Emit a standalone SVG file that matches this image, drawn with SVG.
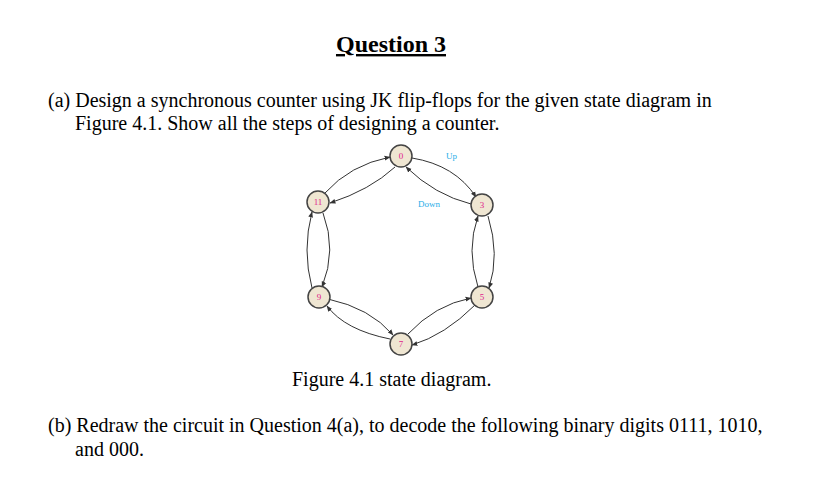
<svg xmlns="http://www.w3.org/2000/svg" width="830" height="481" viewBox="0 0 830 481">
<style>
.t{font-family:"Liberation Serif",serif;font-size:20px;fill:#000}
.n circle{fill:#efe6d2;stroke:#444;stroke-width:1.5}
.n text{font-family:"Liberation Serif",serif;font-size:9px;fill:#e0208a;text-anchor:middle}
.c path{fill:none;stroke:#333;stroke-width:1;marker-end:url(#a)}
.l{font-family:"Liberation Serif",serif;font-size:9px;fill:#2aaee8}
</style>
<defs><marker id="a" viewBox="0 0 10 10" refX="9" refY="5" markerWidth="6" markerHeight="6" orient="auto"><path d="M0,1L10,5L0,9z" fill="#333"/></marker></defs>
<rect width="830" height="481" fill="#fff"/>
<text x="391" y="52" class="t" style="font-size:24px;font-weight:bold" text-anchor="middle" text-decoration="underline">Question 3</text>
<text x="48" y="107" class="t">(a) Design a synchronous counter using JK flip-flops for the given state diagram in</text>
<text x="75" y="130" class="t">Figure 4.1. Show all the steps of designing a counter.</text>
<g class="c">
<path d="M412,158 Q455,165 476,197"/>
<path d="M488,216 Q500,255 489,288"/>
<path d="M475,305 Q445,335 412,345"/>
<path d="M390,339 Q345,330 327,306"/>
<path d="M312,288 Q302,250 312,212"/>
<path d="M325,193 Q350,165 390,157"/>
<path d="M395,167 Q370,190 330,203"/>
<path d="M323,213 Q337,250 322,287"/>
<path d="M328,299 Q370,308 393,335"/>
<path d="M408,334 Q435,305 471,298"/>
<path d="M478,287 Q466,250 478,216"/>
<path d="M471,204 Q435,195 406,167"/>
</g>
<text x="446" y="159" class="l">Up</text>
<text x="418" y="207" class="l">Down</text>
<g id="n0" class="n"><circle cx="401" cy="156" r="11"/><text x="401" y="159">0</text></g>
<g id="n3" class="n"><circle cx="482" cy="205" r="11"/><text x="482" y="208">3</text></g>
<g id="n5" class="n"><circle cx="482" cy="297" r="11"/><text x="482" y="300">5</text></g>
<g id="n7" class="n"><circle cx="401" cy="344" r="11"/><text x="401" y="347">7</text></g>
<g id="n9" class="n"><circle cx="319" cy="297" r="11"/><text x="319" y="300">9</text></g>
<g id="n11" class="n"><circle cx="318" cy="202" r="11"/><text x="318" y="205">11</text></g>
<text x="292" y="386" class="t">Figure 4.1 state diagram.</text>
<text x="48" y="432" class="t">(b) Redraw the circuit in Question 4(a), to decode the following binary digits 0111, 1010,</text>
<text x="75" y="456" class="t">and 000.</text>
</svg>
